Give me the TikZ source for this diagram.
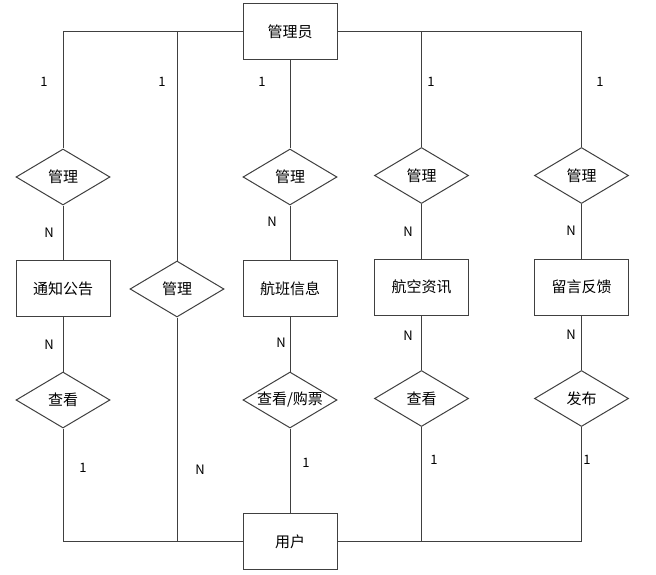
\documentclass[tikz,border=0pt]{standalone}
\usepackage{fontspec}
\setmainfont{Noto Sans CJK SC}
\usetikzlibrary{shapes.geometric}
\begin{document}
\begin{tikzpicture}[x=1pt,y=-1pt,
  line/.style={draw=black!75,line width=1pt},
  entity/.style={rectangle,draw=black!75,line width=1pt,minimum width=94pt,minimum height=56pt,inner sep=0pt,font=\fontsize{15}{17}\selectfont},
  rel/.style={diamond,draw=black!75,line width=1pt,minimum width=94pt,minimum height=56pt,inner sep=0pt,font=\fontsize{15}{17}\selectfont},
  card/.style={inner sep=0pt,font=\fontsize{13}{15}\selectfont}]
\useasboundingbox (0,0) rectangle (656,575);
\fill[white] (0,0) rectangle (656,575);
% entities
\node[entity] (admin) at (290,32) {管理员};
\node[entity] (e1) at (63,288.5) {通知公告};
\node[entity] (e3) at (290,288.5) {航班信息};
\node[entity] (e4) at (421.5,287) {航空资讯};
\node[entity] (e5) at (581.5,287) {留言反馈};
\node[entity] (user) at (290,541.5) {用户};
% relationships
\node[rel] (d1) at (63,177) {\makebox[0pt]{管理}};
\node[rel] (d3) at (290,177) {\makebox[0pt]{管理}};
\node[rel] (d4) at (421.5,175.5) {\makebox[0pt]{管理}};
\node[rel] (d5) at (581.5,175.5) {\makebox[0pt]{管理}};
\node[rel] (dm) at (177,289) {\makebox[0pt]{管理}};
\node[rel] (v1) at (63,400) {\makebox[0pt]{查看}};
\node[rel] (v3) at (290,400) {\makebox[0pt]{查看/购票}};
\node[rel] (v4) at (421.5,398.5) {\makebox[0pt]{查看}};
\node[rel] (v5) at (581.5,398.5) {\makebox[0pt]{发布}};
% connectors top
\draw[line] (admin.west) -| (d1.north);
\draw[line] (admin.west -| dm.north) -- (dm.north);
\draw[line] (admin.south) -- (d3.north);
\draw[line] (admin.east) -| (d4.north);
\draw[line] (admin.east) -| (d5.north);
% middle
\draw[line] (d1.south) -- (e1.north);
\draw[line] (d3.south) -- (e3.north);
\draw[line] (d4.south) -- (e4.north);
\draw[line] (d5.south) -- (e5.north);
\draw[line] (e1.south) -- (v1.north);
\draw[line] (e3.south) -- (v3.north);
\draw[line] (e4.south) -- (v4.north);
\draw[line] (e5.south) -- (v5.north);
% bottom
\draw[line] (v1.south) |- (user.west);
\draw[line] (dm.south) |- (user.west);
\draw[line] (v3.south) -- (user.north);
\draw[line] (v4.south) |- (user.east);
\draw[line] (v5.south) |- (user.east);
% cardinalities
\node[card] (c1) at (44,82) {1};
\node[card] (c2) at (162,82) {1};
\node[card] (c3) at (262,82) {1};
\node[card] (c4) at (431,82) {1};
\node[card] (c5) at (600,82) {1};
\node[card] (n1) at (49,233) {N};
\node[card] (n3) at (272,222) {N};
\node[card] (n4) at (408,232) {N};
\node[card] (n5) at (571,231) {N};
\node[card] (m1) at (49,345) {N};
\node[card] (m3) at (281,343) {N};
\node[card] (m4) at (408,336) {N};
\node[card] (m5) at (571,335) {N};
\node[card] (b1) at (83,468) {1};
\node[card] (b2) at (200,470) {N};
\node[card] (b3) at (306,463) {1};
\node[card] (b4) at (434,460) {1};
\node[card] (b5) at (587,460) {1};
\end{tikzpicture}
\end{document}
